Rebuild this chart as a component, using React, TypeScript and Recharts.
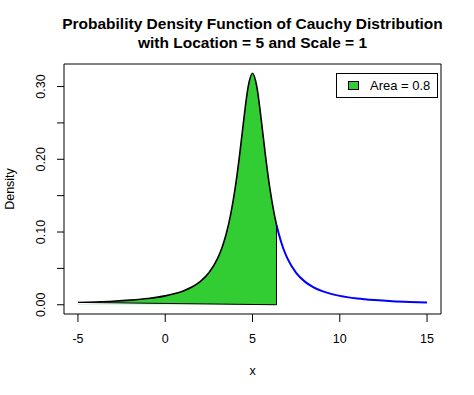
import { ComposedChart, Line, Area, XAxis, YAxis, ReferenceArea, Legend } from 'recharts';

// values (Cauchy pdf, location 5, scale 1)
const xValues = [
  -5, -4, -3, -2, -1, 0, 0.5, 1, 1.5, 2, 2.5, 3, 3.25, 3.5, 3.75, 4, 4.25, 4.5, 4.75, 5,
  5.25, 5.5, 5.75, 6, 6.25, 6.376, 6.5, 6.75, 7, 7.5, 8, 8.5, 9, 9.5, 10, 11, 12, 13, 14, 15,
];
const densityValues = [
  0.0032, 0.0039, 0.0049, 0.0064, 0.0086, 0.0122, 0.015, 0.0187, 0.024, 0.0318, 0.0439,
  0.0637, 0.0784, 0.0979, 0.1242, 0.1592, 0.2037, 0.2546, 0.2996, 0.3183, 0.2996, 0.2546,
  0.2037, 0.1592, 0.1242, 0.11, 0.0979, 0.0784, 0.0637, 0.0439, 0.0318, 0.024, 0.0187,
  0.015, 0.0122, 0.0086, 0.0064, 0.0049, 0.0039, 0.0032,
];
const areaUpperX = 6.376;
const xTicks = [-5, 0, 5, 10, 15];
const yTicks = [0, 0.05, 0.1, 0.15, 0.2, 0.25, 0.3];
const yLabelTicks = [0, 0.1, 0.2, 0.3];
const legendLabel = 'Area = 0.8';

const FONT = '"Liberation Sans", Arial, sans-serif';
const X_DOMAIN: [number, number] = [-5.8, 15.8];
const Y_DOMAIN: [number, number] = [-0.0127, 0.331];

const curve = xValues.map((x, i) => ({ x, density: densityValues[i] }));
const filled = curve.filter((p) => p.x <= areaUpperX);
// the part of the curve not covered by the shaded polygon
const tail = curve.filter((p) => p.x >= areaUpperX);
const fillEnd = filled[filled.length - 1];
// polygon edges that the area itself does not stroke
const outline = [
  { x: fillEnd.x, density: fillEnd.density },
  { x: fillEnd.x, density: 0 },
  { x: curve[0].x, density: curve[0].density },
];
const belowPolygon = [
  { x: curve[0].x, density: curve[0].density },
  { x: fillEnd.x, density: 0 },
];

const XTick = ({ x, payload }: any) => (
  <text x={x} y={343} textAnchor="middle" fontSize={12.5} fontFamily={FONT} fill="#000">
    {payload.value}
  </text>
);

const YTick = ({ y, payload }: any) => {
  if (!yLabelTicks.some((t) => Math.abs(t - payload.value) < 1e-9)) return <g />;
  return (
    <text
      x={45}
      y={y}
      transform={`rotate(-90, 45, ${y})`}
      textAnchor="middle"
      fontSize={12.5}
      fontFamily={FONT}
      fill="#000"
    >
      {payload.value.toFixed(2)}
    </text>
  );
};

const LegendBox = () => (
  <div
    style={{
      boxSizing: 'border-box',
      width: 102,
      height: 25,
      border: '1px solid #000',
      background: '#fff',
      position: 'relative',
      fontFamily: FONT,
      fontSize: 13,
    }}
  >
    <div
      style={{
        position: 'absolute',
        left: 11,
        top: 7,
        width: 9,
        height: 7,
        background: '#32cd32',
        border: '1px solid #000',
      }}
    />
    <div style={{ position: 'absolute', left: 33, top: 4, lineHeight: '15px', whiteSpace: 'nowrap' }}>
      {legendLabel}
    </div>
  </div>
);

export default function App() {
  return (
    <div style={{ position: 'absolute', left: 0, top: 0, width: 474, height: 395, background: '#fff' }}>
      <ComposedChart width={474} height={395} margin={{ top: 64, right: 33, bottom: 0, left: 0 }}>
        <XAxis
          dataKey="x"
          type="number"
          domain={X_DOMAIN}
          ticks={xTicks}
          allowDataOverflow
          axisLine={false}
          tickLine={{ stroke: '#000' }}
          tickSize={8}
          height={81}
          tick={<XTick />}
        />
        <YAxis
          type="number"
          domain={Y_DOMAIN}
          ticks={yTicks}
          allowDataOverflow
          axisLine={false}
          tickLine={{ stroke: '#000' }}
          tickSize={7}
          width={64}
          tick={<YTick />}
        />
        <Area
          data={filled}
          dataKey="density"
          type="monotone"
          baseValue={0}
          fill="#32cd32"
          fillOpacity={1}
          stroke="#000"
          strokeWidth={1.6}
          isAnimationActive={false}
        />
        <Area
          data={belowPolygon}
          dataKey="density"
          type="linear"
          baseValue={0}
          fill="#fff"
          fillOpacity={1}
          stroke="none"
          isAnimationActive={false}
        />
        <Line
          data={tail}
          dataKey="density"
          type="monotone"
          stroke="#0000ff"
          strokeWidth={2}
          dot={false}
          isAnimationActive={false}
        />
        <Line
          data={outline}
          dataKey="density"
          type="linear"
          stroke="#000"
          strokeWidth={1}
          dot={false}
          isAnimationActive={false}
        />
        <ReferenceArea
          x1={X_DOMAIN[0]}
          x2={X_DOMAIN[1]}
          y1={Y_DOMAIN[0]}
          y2={Y_DOMAIN[1]}
          fill="none"
          stroke="#000"
          strokeWidth={1}
          ifOverflow="visible"
        />
        <Legend
          layout="vertical"
          align="center"
          verticalAlign="middle"
          wrapperStyle={{ position: 'absolute', left: 336, top: 73, width: 102, height: 25 }}
          content={() => <LegendBox />}
        />
      </ComposedChart>
      <svg
        width={474}
        height={395}
        style={{ position: 'absolute', left: 0, top: 0, pointerEvents: 'none' }}
      >
        <text x={252.5} y={29.3} textAnchor="middle" fontSize={15.5} fontWeight="bold" fontFamily={FONT}>
          Probability Density Function of Cauchy Distribution
        </text>
        <text x={252.5} y={47.7} textAnchor="middle" fontSize={15.5} fontWeight="bold" fontFamily={FONT}>
          with Location = 5 and Scale = 1
        </text>
        <text x={252.5} y={375} textAnchor="middle" fontSize={12.5} fontFamily={FONT}>
          x
        </text>
        <text
          x={14}
          y={189}
          transform="rotate(-90, 14, 189)"
          textAnchor="middle"
          fontSize={12.5}
          fontFamily={FONT}
        >
          Density
        </text>
      </svg>
    </div>
  );
}
